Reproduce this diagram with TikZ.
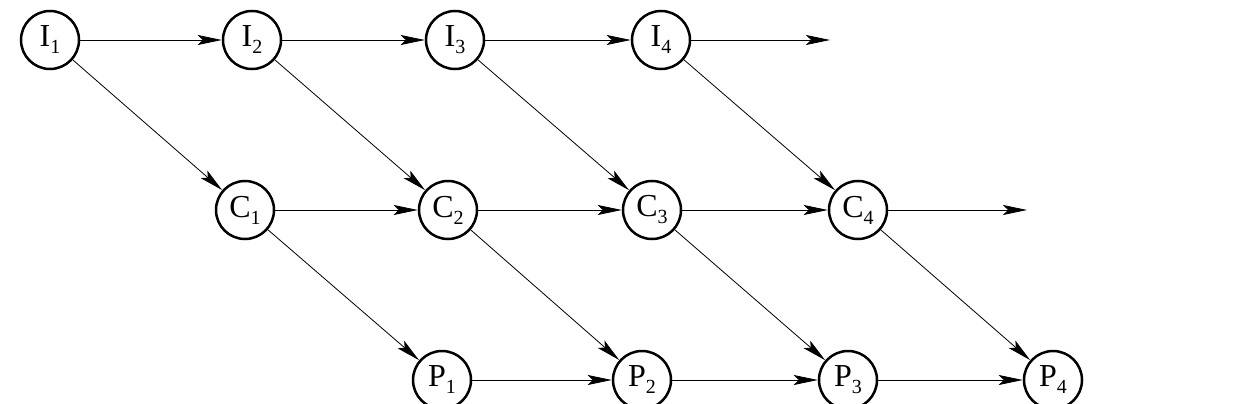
\documentclass[tikz,border=0pt]{standalone}
\usepackage{fontspec}
\setmainfont{Liberation Serif}
\usetikzlibrary{arrows.meta}
\newcommand{\sbx}[1]{\raisebox{-7pt}{\fontsize{20}{22}\selectfont #1}}
\begin{document}
\begin{tikzpicture}[x=1pt,y=-1pt,
  st/.style={circle,draw,line width=2.5pt,minimum size=58pt,inner sep=0pt,font=\fontsize{32}{34}\selectfont},
  ar/.style={line width=0.8pt,-{Stealth[length=24pt,width=10pt,inset=5pt]}}]
\clip (0,0) rectangle (1239,404);
\useasboundingbox (0,0) rectangle (1239,404);
\node[st] (I1) at (50,40) {I\sbx{1}};
\node[st] (I2) at (252,40) {I\sbx{2}};
\node[st] (I3) at (455,40) {I\sbx{3}};
\node[st] (I4) at (661,40) {I\sbx{4}};
\node[st] (C1) at (245,210) {C\sbx{1}};
\node[st] (C2) at (448,210) {C\sbx{2}};
\node[st] (C3) at (652,210) {C\sbx{3}};
\node[st] (C4) at (858,210) {C\sbx{4}};
\node[st] (P1) at (442,380) {P\sbx{1}};
\node[st] (P2) at (642,380) {P\sbx{2}};
\node[st] (P3) at (848,380) {P\sbx{3}};
\node[st] (P4) at (1053,380) {P\sbx{4}};
\coordinate (Ie) at (830,40);
\coordinate (Ce) at (1027,210);
\draw[ar] (I1)--(I2); \draw[ar] (I2)--(I3); \draw[ar] (I3)--(I4); \draw[ar] (I4)--(Ie);
\draw[ar] (C1)--(C2); \draw[ar] (C2)--(C3); \draw[ar] (C3)--(C4); \draw[ar] (C4)--(Ce);
\draw[ar] (P1)--(P2); \draw[ar] (P2)--(P3); \draw[ar] (P3)--(P4);
\draw[ar] (I1)--(C1); \draw[ar] (I2)--(C2); \draw[ar] (I3)--(C3); \draw[ar] (I4)--(C4);
\draw[ar] (C1)--(P1); \draw[ar] (C2)--(P2); \draw[ar] (C3)--(P3); \draw[ar] (C4)--(P4);
\end{tikzpicture}
\end{document}
